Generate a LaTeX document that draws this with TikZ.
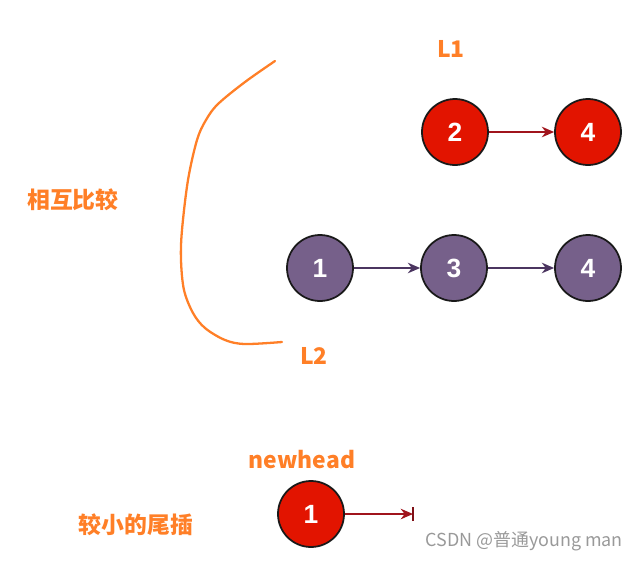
\documentclass[tikz,border=0pt]{standalone}
\usepackage{fontspec}
\setmainfont{Liberation Sans}
\newfontfamily\cjk{Noto Sans CJK SC}
\usetikzlibrary{arrows.meta}

\definecolor{nodered}{HTML}{E21400}
\definecolor{nodepurple}{HTML}{76608A}
\definecolor{linkred}{HTML}{A0141C}
\definecolor{linkpurple}{HTML}{4B3560}
\definecolor{tagorange}{HTML}{FF7F27}

\begin{document}
\begin{tikzpicture}[
  x=1cm,
  y=1cm,
  listnode/.style={
    circle,
    draw=black!90,
    line width=1pt,
    minimum size=1.32cm,
    inner sep=0pt,
    text=white,
    font=\fontsize{15}{17}\selectfont\bfseries
  },
  rednode/.style={listnode, fill=nodered},
  purplenode/.style={listnode, fill=nodepurple},
  redlink/.style={draw=linkred, line width=1pt, -{Stealth[length=7pt,width=6pt]}},
  purplelink/.style={draw=linkpurple, line width=1pt, -{Stealth[length=7pt,width=6pt]}},
  tag/.style={text=tagorange, font=\cjk\bfseries\fontsize{13}{15}\selectfont},
  stroke/.style={draw=tagorange, line width=1.3pt, line cap=round, line join=round}
]

\useasboundingbox (0,0) rectangle (12.86,-11.22);

% Positions follow the reference pixels divided by 50.
% L1 : 2 -> 4, L2 : 1 -> 3 -> 4, merged list starts with 1.

\node[tag] (l1) at (9.02,-0.98) {L1};
\node[rednode] (a2) at ( 9.10,-2.64) {2};
\node[rednode] (a4) at (11.76,-2.64) {4};

\node[purplenode] (b1) at ( 6.40,-5.36) {1};
\node[purplenode] (b3) at ( 9.08,-5.36) {3};
\node[purplenode] (b4) at (11.76,-5.36) {4};
\node[tag] (l2) at (6.28,-7.12) {L2};

\node[tag] (cmp) at (1.46,-4.00) {相互比较};

\node[tag] (newhead) at (6.04,-9.20) {newhead};
\node[rednode] (c1) at (6.22,-10.28) {1};
\coordinate (cnext) at (8.26,-10.28);
\node[tag] (tail) at (2.72,-10.50) {较小的尾插};

\node[text=black!40, font=\cjk\fontsize{10.2}{12}\selectfont, anchor=east]
  (mark) at (12.58,-10.82) {CSDN @普通young man};

\draw[redlink] (a2) -- (a4);
\draw[purplelink] (b1) -- (b3);
\draw[purplelink] (b3) -- (b4);
\draw[redlink] (c1) -- (cnext);
\draw[linkred!80!black, line width=0.6pt] ([yshift=-0.14cm]cnext) -- ([yshift=0.14cm]cnext);

% hand drawn bracket round the two lists
\draw[stroke] plot[smooth, tension=0.55] coordinates {
  (5.50,-1.22) (4.90,-1.64) (4.36,-2.08) (4.12,-2.40) (3.94,-2.80)
  (3.76,-3.60) (3.64,-4.60) (3.62,-5.20) (3.68,-5.80) (3.86,-6.26)
  (4.10,-6.56) (4.50,-6.80) (4.90,-6.88) (5.64,-6.84)};

\end{tikzpicture}
\end{document}
